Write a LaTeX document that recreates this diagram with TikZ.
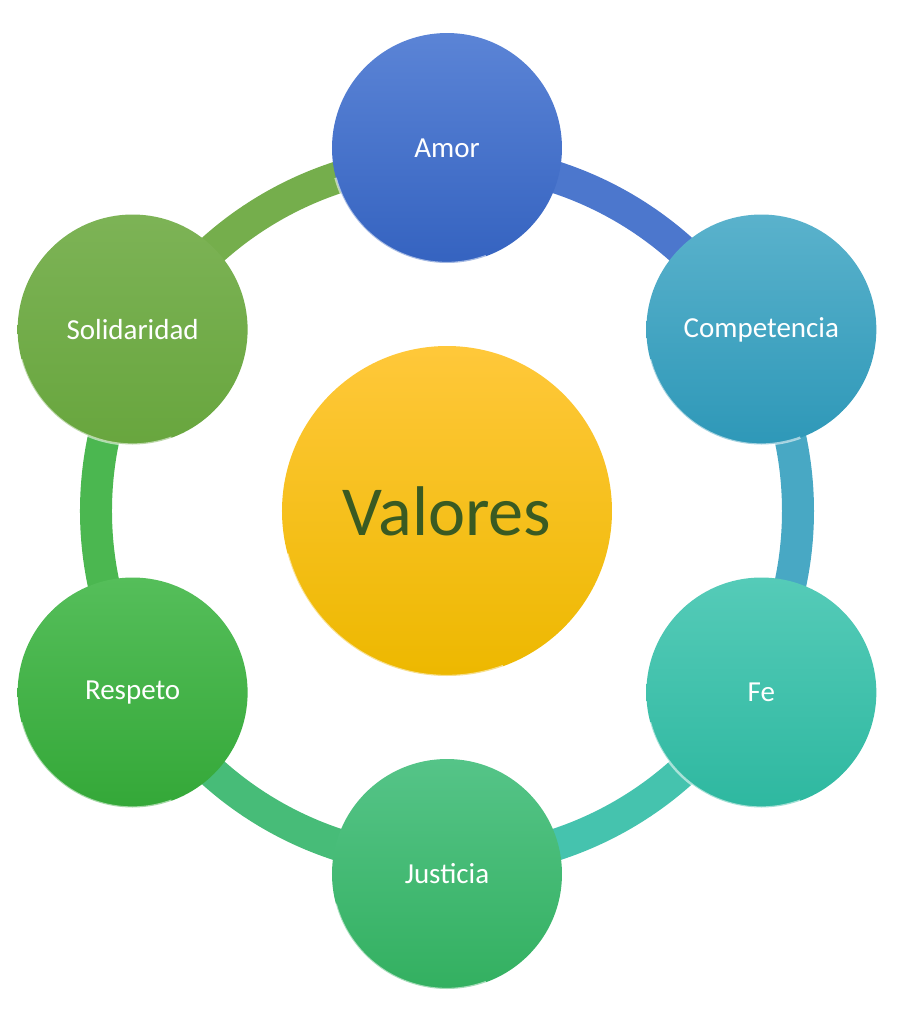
\documentclass[tikz,border=0pt]{standalone}
\usepackage{fontspec}
\setmainfont{Carlito}
\usetikzlibrary{backgrounds,calc}

\definecolor{amorT}{HTML}{5B84D6}
\definecolor{amorB}{HTML}{3563C0}
\definecolor{compT}{HTML}{5AB2CC}
\definecolor{compB}{HTML}{2E98B8}
\definecolor{feT}{HTML}{55CBB8}
\definecolor{feB}{HTML}{2EB8A0}
\definecolor{jusT}{HTML}{55C488}
\definecolor{jusB}{HTML}{33B060}
\definecolor{resT}{HTML}{55BE5A}
\definecolor{resB}{HTML}{34A838}
\definecolor{solT}{HTML}{7DB356}
\definecolor{solB}{HTML}{68A63E}
\definecolor{valT}{HTML}{FFC83A}
\definecolor{valB}{HTML}{EDB800}
\definecolor{valText}{HTML}{3A5A22}

\begin{document}
\begin{tikzpicture}[
  value/.style={circle,minimum size=4.6cm,inner sep=0pt,text=white,
    font=\fontsize{16.5}{20}\selectfont},
  ring/.style={line width=0.64cm},
  rim/.style={white,opacity=0.55,line width=1.4pt}]
  \useasboundingbox (-8.94,10.22) rectangle (9.16,-10.26);

  % The centre
  \node[circle,minimum size=6.6cm,inner sep=0pt,top color=valT,bottom color=valB,
    text=valText,font=\fontsize{40}{48}\selectfont] (val) at (0,0) {Valores};

  % The six values round the ring
  \node[value,top color=amorT,bottom color=amorB] (amor) at (90:7.26) {Amor};
  \node[value,top color=compT,bottom color=compB] (comp) at (30:7.26) {Competencia};
  \node[value,top color=feT,bottom color=feB] (fe) at (-30:7.26) {Fe};
  \node[value,top color=jusT,bottom color=jusB] (jus) at (-90:7.26) {Justicia};
  \node[value,top color=resT,bottom color=resB] (res) at (-150:7.26) {Respeto};
  \node[value,top color=solT,bottom color=solB] (sol) at (150:7.26) {Solidaridad};

  % Light edge on each disc
  \foreach \n in {amor,comp,fe,jus,res,sol}
    \draw[rim] (\n.195) arc[start angle=195,end angle=290,radius=2.3cm];
  \draw[rim] (val.195) arc[start angle=195,end angle=290,radius=3.3cm];

  % The ring, behind the discs
  \begin{scope}[on background layer]
    \draw[ring,color=amorT!60!amorB] ($(val)!0.967!(amor)$) arc[start angle=90,end angle=30,radius=7.02];
    \draw[ring,color=compT!60!compB] ($(val)!0.967!(comp)$) arc[start angle=30,end angle=-30,radius=7.02];
    \draw[ring,color=feT!60!feB] ($(val)!0.967!(fe)$) arc[start angle=-30,end angle=-90,radius=7.02];
    \draw[ring,color=jusT!60!jusB] ($(val)!0.967!(jus)$) arc[start angle=-90,end angle=-150,radius=7.02];
    \draw[ring,color=resT!70!resB] ($(val)!0.967!(res)$) arc[start angle=210,end angle=150,radius=7.02];
    \draw[ring,color=solT!60!solB] ($(val)!0.967!(sol)$) arc[start angle=150,end angle=90,radius=7.02];
  \end{scope}
\end{tikzpicture}
\end{document}
